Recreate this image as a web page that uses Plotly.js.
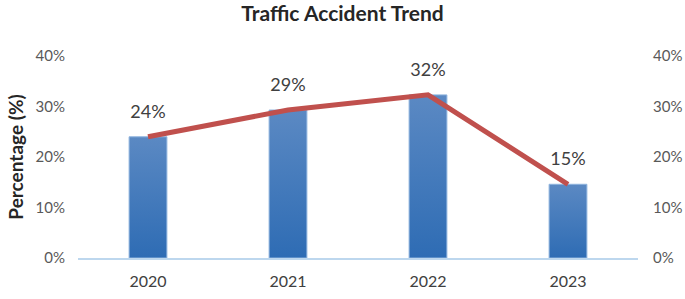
<!DOCTYPE html>
<html>
<head>
<meta charset="utf-8">
<script src="https://cdn.plot.ly/plotly-3.0.1.min.js"></script>
<style>html,body{margin:0;padding:0;background:#fff;}#chart{width:685px;height:299px;}</style>
</head>
<body>
<div id="chart"></div>
<script>
const years = ['2020', '2021', '2022', '2023'];
const percentages = [0.24, 0.293, 0.323, 0.146];
const tickValues = [0, 0.1, 0.2, 0.3, 0.4];

const FONT = 'Lato, "Open Sans", sans-serif';

const traces = [
  {
    type: 'bar', x: years, y: percentages,
    width: 0.27,
    marker: {color: '#3f7bbf', line: {color: '#8fb4de', width: 1}},
    hoverinfo: 'skip', showlegend: false
  },
  {
    type: 'scatter', mode: 'lines', x: years, y: percentages,
    line: {color: '#c0504d', width: 5},
    hoverinfo: 'skip', showlegend: false
  },
  {
    type: 'scatter', mode: 'markers+text', x: years, y: percentages,
    marker: {size: 22, opacity: 0},
    texttemplate: '%{y:.0%}', textposition: 'top center',
    textfont: {family: FONT, size: 18, color: '#404040'},
    hoverinfo: 'skip', showlegend: false
  },
  {
    type: 'scatter', mode: 'markers', x: years, y: percentages, yaxis: 'y2',
    marker: {size: 1, opacity: 0}, hoverinfo: 'skip', showlegend: false
  }
];

const layout = {
  width: 685, height: 299,
  margin: {l: 78, r: 47, t: 56, b: 41},
  paper_bgcolor: '#ffffff', plot_bgcolor: '#ffffff',
  font: {family: FONT, color: '#595959'},
  title: {
    text: '<b>Traffic Accident Trend</b>',
    font: {family: FONT, size: 21, color: '#262626'},
    x: 0.5, xanchor: 'center', xref: 'container',
    y: 0.955, yanchor: 'middle', yref: 'container'
  },
  xaxis: {
    type: 'category',
    showline: true, linecolor: '#bdd7ee', linewidth: 1.5,
    showgrid: false, zeroline: false, ticks: '',
    tickfont: {family: FONT, size: 16, color: '#404040'},
    ticklabelstandoff: 8
  },
  yaxis: {
    range: [0, 0.4], tickvals: tickValues, tickformat: '.0%',
    showgrid: false, zeroline: false, showline: false, ticks: '',
    tickfont: {family: FONT, size: 15, color: '#595959'},
    ticklabelstandoff: 12,
    title: {text: '<b>Percentage (%)</b>', font: {family: FONT, size: 19, color: '#262626'}, standoff: 6}
  },
  yaxis2: {
    overlaying: 'y', side: 'right',
    range: [0, 0.4], tickvals: tickValues, tickformat: '.0%',
    showgrid: false, zeroline: false, showline: false, ticks: '',
    tickfont: {family: FONT, size: 15, color: '#595959'},
    ticklabelstandoff: 14
  }
};

Plotly.newPlot('chart', traces, layout, {displayModeBar: false, staticPlot: true}).then(function(gd){
  const svg = gd.querySelector('svg.main-svg');
  const ns = 'http://www.w3.org/2000/svg';
  let defs = svg.querySelector('defs');
  if (!defs) { defs = document.createElementNS(ns, 'defs'); svg.insertBefore(defs, svg.firstChild); }
  const grad = document.createElementNS(ns, 'linearGradient');
  grad.setAttribute('id', 'barGrad');
  grad.setAttribute('x1', '0'); grad.setAttribute('y1', '0');
  grad.setAttribute('x2', '0'); grad.setAttribute('y2', '1');
  [['0', '#5b89c3'], ['1', '#2e6cb4']].forEach(function(s){
    const st = document.createElementNS(ns, 'stop');
    st.setAttribute('offset', s[0]); st.setAttribute('stop-color', s[1]);
    grad.appendChild(st);
  });
  defs.appendChild(grad);
  gd.querySelectorAll('.barlayer .point path').forEach(function(p){
    p.style.fill = 'url(#barGrad)';
  });
});
</script>
</body>
</html>
